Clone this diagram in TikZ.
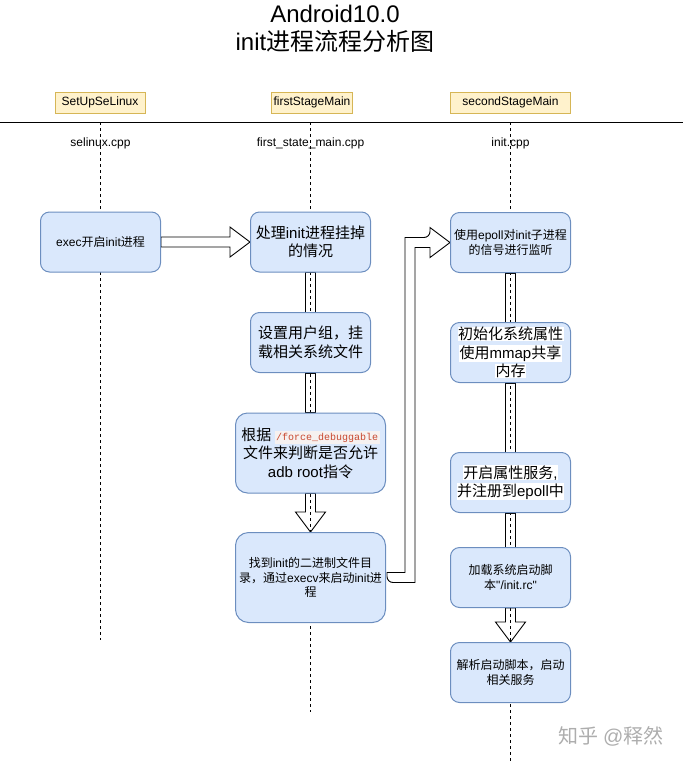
\documentclass[tikz,border=0pt]{standalone}
\usepackage{fontspec}
\setmainfont{Liberation Sans}
\newfontfamily\latinfont{Liberation Sans}
\newfontfamily\cjkfont{Noto Sans CJK SC}
\newfontfamily\codefont{Liberation Mono}
\usetikzlibrary{calc,backgrounds}

% Chinese characters are set in the CJK font, the rest in Liberation Sans
\XeTeXinterchartokenstate=1
\newXeTeXintercharclass\cjkclass
\count255="4E00
\loop\XeTeXcharclass\count255=\cjkclass\advance\count255 by 1
\ifnum\count255<"A000 \repeat
\XeTeXcharclass"FF0C=\cjkclass
\XeTeXinterchartoks 0 \cjkclass={\cjkfont}
\XeTeXinterchartoks 4095 \cjkclass={\cjkfont}
\XeTeXinterchartoks \cjkclass 0={\latinfont}
\XeTeXinterchartoks 4095 0={\latinfont}

\definecolor{boxfill}{HTML}{DAE8FC}
\definecolor{boxline}{HTML}{6C8EBF}
\definecolor{hdrfill}{HTML}{FFF2CC}
\definecolor{hdrline}{HTML}{D6B656}
\definecolor{codebg}{HTML}{F6F1F0}
\definecolor{codered}{HTML}{C8472F}

\newcommand\whitebg[1]{{\setlength\fboxsep{0.5pt}\colorbox{white}{#1}}}
\newcommand\codetext[1]{{\XeTeXinterchartokenstate=0 \setlength\fboxsep{1.5pt}%
  \colorbox{codebg}{\codefont\fontsize{10}{12}\selectfont\color{codered}#1}}}

\begin{document}
\begin{tikzpicture}[x=1pt,y=-1pt,
  stagebox/.style={draw=boxline,fill=boxfill,line width=1pt,rounded corners=9pt,
    minimum width=120pt,minimum height=60pt,inner sep=2pt,align=center,
    font=\fontsize{12}{14.5}\selectfont},
  bigtext/.style={font=\fontsize{15}{18.5}\selectfont},
  header/.style={draw=hdrline,fill=hdrfill,line width=1pt,minimum height=21pt,
    inner sep=2pt,font=\fontsize{12}{14}\selectfont},
  filename/.style={font=\fontsize{12}{14}\selectfont},
  lifeline/.style={dash pattern=on 3pt off 3pt,line width=0.8pt},
  blockarrow/.style={draw=black,fill=white,line width=0.9pt}]
\useasboundingbox (0,0) rectangle (683,764);

\node[font=\fontsize{24}{28}\selectfont,align=center] (title) at (335,29) {Android10.0\\init进程流程分析图};

% lifeline heads
\node[header,minimum width=90pt] (hsel) at (100,102.5) {SetUpSeLinux};
\node[header,minimum width=80pt] (hfirst) at (312,102.5) {firstStageMain};
\node[header,minimum width=120pt] (hsecond) at (510.5,102.5) {secondStageMain};
\coordinate (ruleL) at (0,122);
\coordinate (ruleR) at (683,122);
\node[filename] (fsel) at (100.5,143) {selinux.cpp};
\node[filename] (ffirst) at (310.5,143) {first\_state\_main.cpp};
\node[filename] (fsecond) at (510.5,143) {init.cpp};
\coordinate (endsel) at (100.5,640);
\coordinate (endfirst) at (310.5,712);
\coordinate (endsecond) at (510.5,764);

% steps
\node[stagebox] (exec) at (100.5,242) {exec开启init进程};
\node[stagebox,bigtext] (crash) at (310.5,242) {处理init进程挂掉\\的情况};
\node[stagebox,bigtext] (mount) at (310.5,342.5) {设置用户组，挂\\载相关系统文件};
\node[stagebox,bigtext,minimum width=150pt,minimum height=80pt,rounded corners=12pt] (debug) at (310.5,453) {根据 \codetext{/force\_debuggable}\\文件来判断是否允许\\adb root指令};
\node[stagebox,minimum width=150pt,minimum height=90pt,rounded corners=13pt] (execv) at (310.5,577.5) {找到init的二进制文件目\\录，通过execv来启动init进\\程};
\node[stagebox] (epoll) at (510.5,242.5) {使用epoll对init子进程\\的信号进行监听};
\node[stagebox,bigtext] (prop) at (510.5,352.5) {\whitebg{初始化系统属性}\\\whitebg{使用mmap共享}\\\whitebg{内存}};
\node[stagebox,bigtext] (propsvc) at (510.5,482.5) {\whitebg{开启属性服务,}\\\whitebg{并注册到epoll中}};
\node[stagebox] (rc) at (510.5,577.5) {加载系统启动脚\\本"/init.rc"};
\node[stagebox] (parse) at (510.5,672.5) {解析启动脚本，启动\\相关服务};

\node[text=black!32,font=\fontsize{20}{24}\selectfont] (mark) at (611,736) {知乎 @释然};

\begin{scope}[on background layer]
% block arrows
\draw[blockarrow] ($(exec.east)+(0,-5)$) -- ($(crash.west)+(-20,-5)$) -- ($(crash.west)+(-20,-15)$)
  -- (crash.west) -- ($(crash.west)+(-20,15)$) -- ($(crash.west)+(-20,5)$) -- ($(exec.east)+(0,5)$) -- cycle;
\draw[blockarrow] ($(crash.south)+(-5,0)$) rectangle ($(mount.north)+(5,0)$);
\draw[blockarrow] ($(mount.south)+(-5,0)$) rectangle ($(debug.north)+(5,0)$);
\draw[blockarrow] ($(debug.south)+(-5,0)$) -- ($(execv.north)+(-5,-20)$) -- ($(execv.north)+(-15,-20)$)
  -- (execv.north) -- ($(execv.north)+(15,-20)$) -- ($(execv.north)+(5,-20)$) -- ($(debug.south)+(5,0)$) -- cycle;
\coordinate (loopx) at (410,0);
\draw[blockarrow] ($(execv.east)+(1,-5)$)
  -- ($(loopx |- execv.east)+(-5,-5)$)
  -- ($(loopx |- epoll.west)+(-5,-5)$)
  [rounded corners=6pt] -- ($(epoll.west)+(-20,-5)$)
  [sharp corners] -- ($(epoll.west)+(-20,-15)$) -- (epoll.west) -- ($(epoll.west)+(-20,15)$)
  -- ($(epoll.west)+(-20,5)$)
  -- ($(loopx |- epoll.west)+(5,5)$)
  -- ($(loopx |- execv.east)+(5,5)$)
  [rounded corners=6pt] -- ($(execv.east)+(1,5)$)
  [sharp corners] -- cycle;
\draw[blockarrow] ($(epoll.south)+(-5,0)$) rectangle ($(prop.north)+(5,0)$);
\draw[blockarrow] ($(prop.south)+(-5,0)$) rectangle ($(propsvc.north)+(5,0)$);
\draw[blockarrow] ($(propsvc.south)+(-5,0)$) rectangle ($(rc.north)+(5,0)$);
\draw[blockarrow] ($(rc.south)+(-5,0)$) -- ($(parse.north)+(-5,-20)$) -- ($(parse.north)+(-15,-20)$)
  -- (parse.north) -- ($(parse.north)+(15,-20)$) -- ($(parse.north)+(5,-20)$) -- ($(rc.south)+(5,0)$) -- cycle;
\end{scope}

\begin{scope}[on background layer]
% lifelines
\draw[line width=1pt] (ruleL) -- (ruleR);
\draw[lifeline] (endsel |- ruleL) -- (endsel);
\draw[lifeline] (endfirst |- ruleL) -- (endfirst);
\draw[lifeline] (endsecond |- ruleL) -- (endsecond);
\end{scope}
\end{tikzpicture}
\end{document}
